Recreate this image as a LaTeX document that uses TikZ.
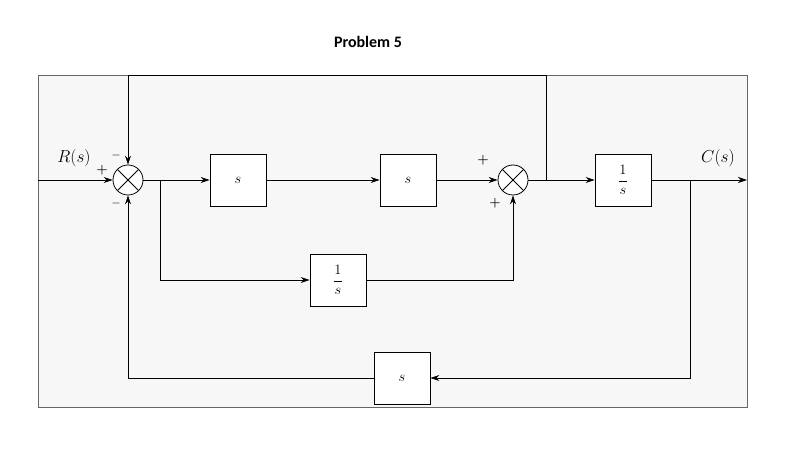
\documentclass[tikz,border=0pt]{standalone}
\usepackage{amsmath}
\usepackage{fontspec}
\newfontfamily\titlefont{Carlito}
\usetikzlibrary{arrows.meta,positioning}
\tikzset{
  blk/.style={draw,thick,fill=white,minimum width=56pt,minimum height=52pt,font=\fontsize{15}{18}\selectfont},
  sumj/.style={draw,thick,circle,fill=white,minimum size=30pt,inner sep=0pt,
    path picture={\draw[thick] (path picture bounding box.north west)--(path picture bounding box.south east)
      (path picture bounding box.north east)--(path picture bounding box.south west);}},
  sig/.style={-{Stealth[length=9pt,width=6pt]},thick},
  sgn/.style={font=\fontsize{13}{15}\selectfont\bfseries}
}
\begin{document}
\begin{tikzpicture}[x=1pt,y=1pt]
    \useasboundingbox (0,0) rectangle (788,-465);
    \node [font=\titlefont\bfseries\fontsize{16}{19}\selectfont] at (368,-42) {Problem 5};
    \draw [fill=black!3,draw=black!60] (38,-75) rectangle (747,-407);

    % forward path
    \node [sumj] (sum1) at (128,-180) {};
    \node [blk] (g1) at (238,-180) {$s$};
    \node [blk] (g2) at (408,-180) {$s$};
    \node [sumj] (sum2) at (513,-180) {};
    \node [blk] (g3) at (623,-180) {$\dfrac{1}{s}$};
    \node [blk] (g4) at (338,-280) {$\dfrac{1}{s}$};
    \node [blk] (h1) at (402,-378) {$s$};

    \coordinate (in) at (38,-180);
    \coordinate (out) at (747,-180);
    \coordinate (br1) at (160,-180);
    \coordinate (br2) at (690,-180);
    \coordinate (br3) at (546,-180);

    \draw [sig] (in) -- (sum1);
    \draw [sig] (sum1) -- (g1);
    \draw [sig] (g1) -- (g2);
    \draw [sig] (g2) -- (sum2);
    \draw [sig] (sum2) -- (g3);
    \draw [sig] (g3) -- (out);

    % parallel path
    \draw [sig] (br1) |- (g4);
    \draw [sig] (g4) -| (sum2);

    % feedback paths
    \draw [sig] (br3) -- (546,-75) -| (sum1);
    \draw [sig] (br2) |- (h1);
    \draw [sig] (h1) -| (sum1);

    \node [font=\fontsize{17}{20}\selectfont] at (74,-158) {$R(s)$};
    \node [font=\fontsize{17}{20}\selectfont] at (718,-158) {$C(s)$};
    \node [sgn] at (102,-170) {+};
    \node [sgn] at (116,-156) {$-$};
    \node [sgn] at (116,-204) {$-$};
    \node [sgn] at (483,-160) {+};
    \node [sgn] at (495,-203) {+};
\end{tikzpicture}
\end{document}
